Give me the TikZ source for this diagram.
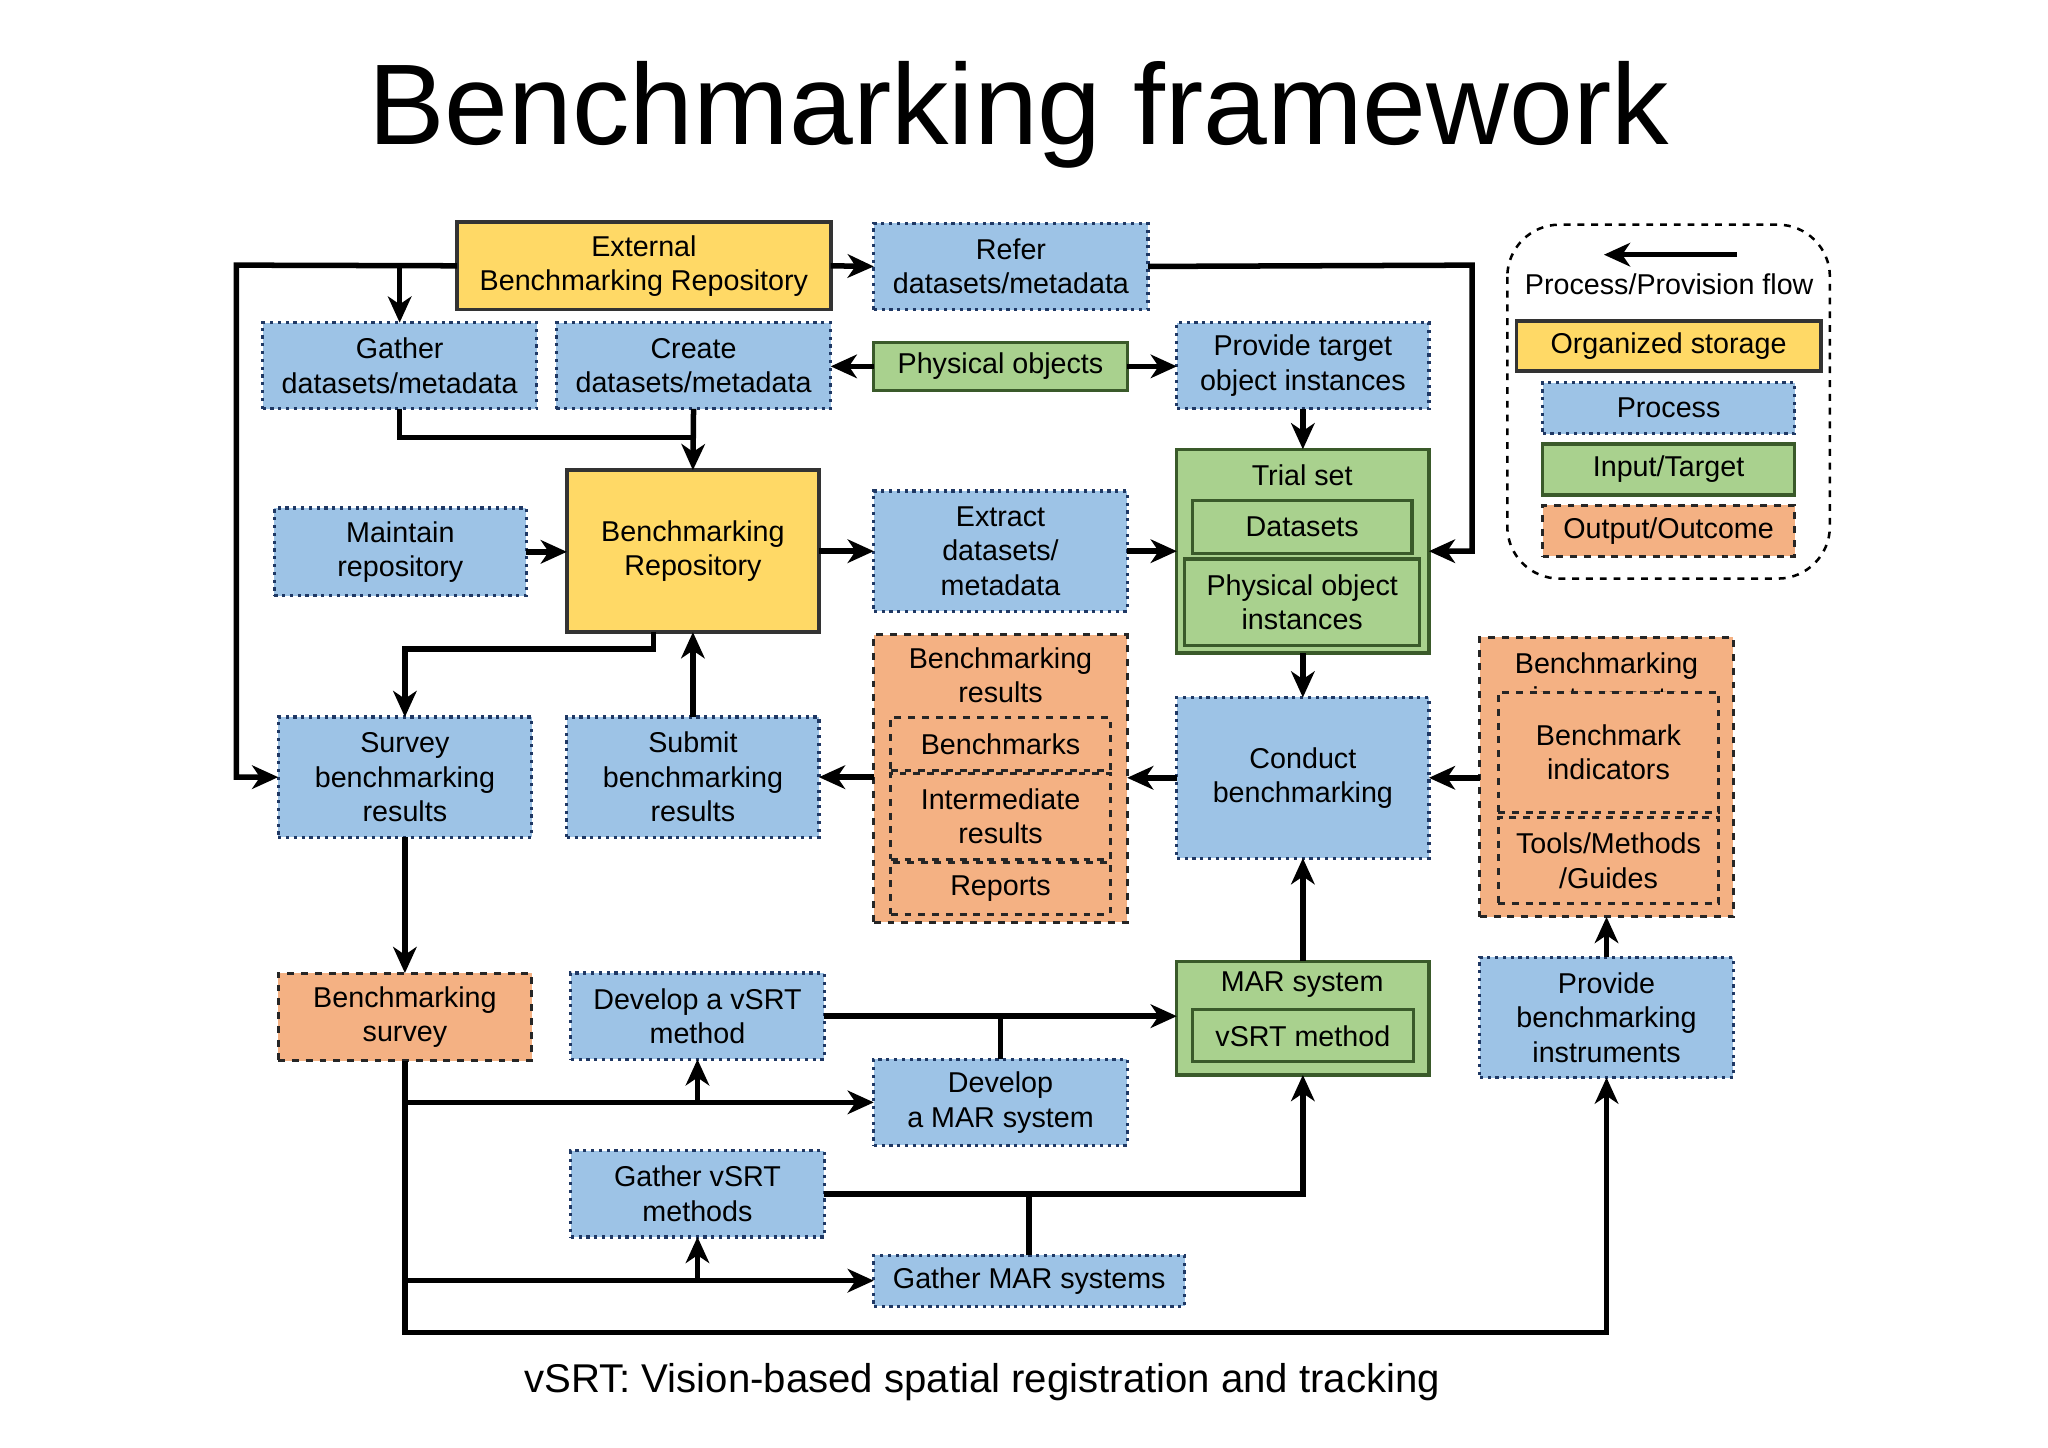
\documentclass[tikz,border=0pt]{standalone}
\usepackage{fontspec}
\setmainfont{Liberation Sans}
\usetikzlibrary{arrows.meta}
\definecolor{cblue}{HTML}{9DC3E6}
\definecolor{cyel}{HTML}{FFD966}
\definecolor{cgreen}{HTML}{A9D18E}
\definecolor{corange}{HTML}{F4B183}
\definecolor{navy}{HTML}{1F3864}
\definecolor{dgreen}{HTML}{3A5A2A}
\newcommand\bx[7]{\node[#1,minimum width={(#5-#3)*0.02cm},minimum height={(#6-#4)*0.02cm}] (#2) at ({(#3+#5)/2},{(#4+#6)/2}) {#7};}
\tikzset{
 base/.style={inner sep=0pt,outer sep=0pt,align=center,font=\fontsize{12.5}{15}\selectfont},
 pb/.style={base,fill=cblue,draw=navy,dotted,line width=1.4pt},
 yb/.style={base,fill=cyel,draw=black!80,line width=1.6pt},
 gb/.style={base,fill=cgreen,draw=dgreen,line width=1.4pt},
 ob/.style={base,fill=corange,draw=black!85,dashed,line width=1.3pt},
 txt/.style={base},
 ln/.style={line width=2.4pt,black},
 arr/.style={ln,-{Stealth[length=0.4cm,width=0.36cm,inset=0.12cm]}},
}
\begin{document}
\begin{tikzpicture}[x=0.02cm,y=-0.02cm]
\useasboundingbox (0,0) rectangle (1568,1108);
\node[font=\fontsize{50}{56}\selectfont] (title) at (780,88) {Benchmarking framework};
\node[font=\fontsize{17.5}{20}\selectfont] (cap) at (752,1058) {vSRT: Vision-based spatial registration and tracking};
% legend
\draw[dashed,line width=1.1pt,rounded corners=0.8cm] (1154,172) rectangle (1401,443);
\coordinate (la) at (1330,195); \coordinate (lb) at (1228,195);
\draw[arr] (la) -- (lb);
\node[txt] (lt) at (1278,218) {Process/Provision flow};
\bx{yb}{l1}{1161}{246}{1394}{284}{Organized storage}
\bx{pb}{l2}{1181}{293}{1374}{332}{Process}
\bx{gb}{l3}{1181}{340}{1374}{379}{Input/Target}
\bx{ob}{l4}{1181}{387}{1374}{426}{Output/Outcome}
% boxes
\bx{yb}{ext}{350}{170}{636}{237}{External\\Benchmarking Repository}
\bx{pb}{refer}{669}{171}{879}{237}{Refer\\datasets/metadata}
\bx{pb}{gather}{201}{247}{411}{313}{Gather\\datasets/metadata}
\bx{pb}{create}{426}{247}{636}{313}{Create\\datasets/metadata}
\bx{gb}{phys}{669}{262}{863}{299}{Physical objects}
\bx{pb}{provide}{901}{247}{1094}{313}{Provide target\\object instances}
\bx{gb}{trial}{901}{344}{1094}{500}{}
\node[txt] (trialt) at (997,364) {Trial set};
\bx{gb}{ds}{913}{383}{1081}{424}{Datasets}
\bx{gb}{poi}{907}{428}{1087}{494}{Physical object\\instances}
\bx{pb}{maint}{210}{389}{403}{456}{Maintain\\repository}
\bx{yb}{repo}{434}{360}{627}{484}{Benchmarking\\Repository}
\bx{pb}{extract}{669}{376}{863}{468}{Extract\\datasets/\\metadata}
\bx{ob}{bres}{669}{486}{863}{706}{}
\node[txt] (brest) at (766,517) {Benchmarking\\results};
\bx{ob}{bm}{682}{549}{850}{590}{Benchmarks}
\bx{ob}{inter}{682}{592}{850}{658}{Intermediate\\results}
\bx{ob}{rep}{682}{660}{850}{700}{Reports}
\bx{pb}{survey}{213}{549}{407}{641}{Survey\\benchmarking\\results}
\bx{pb}{submit}{434}{549}{627}{641}{Submit\\benchmarking\\results}
\bx{pb}{conduct}{901}{534}{1094}{657}{Conduct\\benchmarking}
\bx{ob}{binst}{1133}{488}{1327}{702}{}
\node[txt] (binstt) at (1230,521) {Benchmarking\\instruments};
\bx{ob}{bind}{1147}{530}{1316}{622}{Benchmark\\indicators}
\bx{ob}{tools}{1147}{626}{1316}{692}{Tools/Methods\\/Guides}
\bx{ob}{bsurvey}{213}{745}{407}{812}{Benchmarking\\survey}
\bx{pb}{devv}{437}{745}{631}{811}{Develop a vSRT\\method}
\bx{gb}{mar}{901}{736}{1094}{823}{}
\node[txt] (mart) at (997,754) {MAR system};
\bx{gb}{vm}{913}{773}{1082}{813}{vSRT method}
\bx{pb}{provinst}{1133}{733}{1327}{825}{Provide\\benchmarking\\instruments}
\bx{pb}{devmar}{669}{811}{863}{877}{Develop\\a MAR system}
\bx{pb}{gv}{437}{881}{631}{947}{Gather vSRT\\methods}
\bx{pb}{gmar}{669}{961}{907}{1000}{Gather MAR systems}
% connectors
\coordinate (j1) at (306,203);
\draw[arr] (ext.west) -- (181,203) |- (survey.west);
\draw[arr] (j1) -- (gather.north);
\draw[arr] (ext.east) -- (refer.west);
\draw[arr] (refer.east) -- (1127,203) |- (trial.east);
\draw[ln] (gather.south) |- (531,335);
\draw[arr] (create.south) -- (repo.north);
\draw[arr] (phys.west) -- (create.east |- phys.west);
\draw[arr] (phys.east) -- (provide.west |- phys.east);
\draw[arr] (provide.south) -- (trial.north);
\draw[arr] (maint.east) -- (repo.west |- maint.east);
\draw[arr] (repo.east) -- (extract.west |- repo.east);
\draw[arr] (extract.east) -- (trial.west |- extract.east);
\draw[arr] ([xshift=-0.6cm]repo.south) -- ++(0,13) -| (survey.north);
\draw[arr] (submit.north) -- (repo.south);
\draw[arr] (trial.south) -- (conduct.north);
\draw[arr] (conduct.west) -- (conduct.west -| bres.east);
\draw[arr] (bres.west |- submit.east) -- (submit.east);
\draw[arr] (binst.west |- conduct.east) -- (conduct.east);
\draw[arr] (survey.south) -- (bsurvey.north);
\draw[arr] (bsurvey.south) -- (310,1020) -| (provinst.south);
\draw[arr] (devmar.west -| bsurvey.south) -- (devmar.west);
\draw[arr] (devmar.west -| devv.south) -- (devv.south);
\draw[arr] (gmar.west -| bsurvey.south) -- (gmar.west);
\draw[arr] (gmar.west -| gv.south) -- (gv.south);
\draw[arr] (devv.east) -- (devv.east -| mar.west);
\draw[ln] (devmar.north) -- (devmar.north |- devv.east);
\draw[arr] (gv.east) -| (mar.south);
\draw[ln] (gmar.north) -- (gmar.north |- gv.east);
\draw[arr] (mar.north) -- (conduct.south);
\draw[arr] (provinst.north) -- (binst.south);
\end{tikzpicture}
\end{document}
